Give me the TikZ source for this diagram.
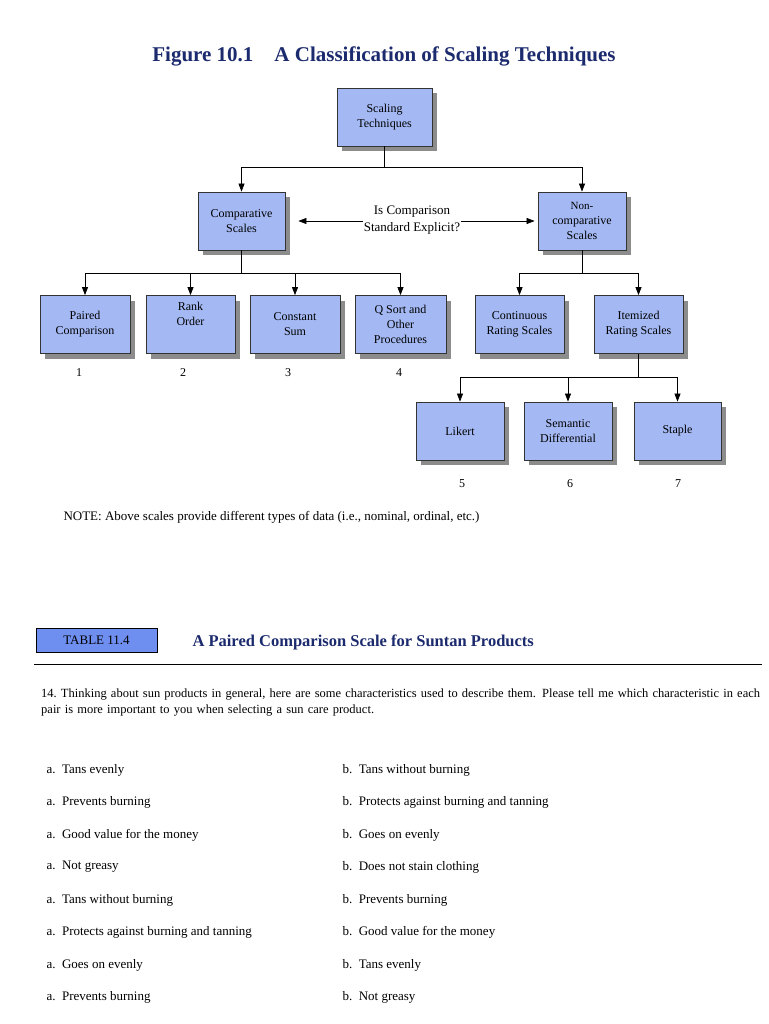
\documentclass[tikz,border=0pt]{standalone}
\usepackage{fontspec}
\setmainfont{Liberation Serif}
\usetikzlibrary{arrows.meta}
\definecolor{boxblue}{HTML}{A4B9F4}
\definecolor{navy}{HTML}{1C2A6E}
\definecolor{tabblue}{HTML}{6E8EF0}
\begin{document}
\begin{tikzpicture}[x=1pt,y=-1pt,
 bx/.style={draw=black!80,fill=boxblue,line width=0.8pt,minimum width=88pt,minimum height=58pt,align=center,font=\fontsize{12}{15}\selectfont,inner sep=1pt,
   preaction={fill=black!45,draw=none,transform canvas={xshift=5pt,yshift=-5pt}}},
 ar/.style={-{Triangle[length=8pt,width=6pt]},line width=0.7pt},
 num/.style={font=\fontsize{12}{14}\selectfont},
 it/.style={anchor=west,font=\fontsize{13}{15}\selectfont}]
\useasboundingbox (0,0) rectangle (768,1024);
\node[font=\fontsize{21}{24}\selectfont\bfseries,text=navy] (title) at (384,56) {Figure 10.1\quad A Classification of Scaling Techniques};
\node[bx,minimum width=95pt] (st) at (384.5,117) {Scaling\\Techniques};
\node[bx,minimum width=87pt] (cs) at (241.5,221) {Comparative\\Scales};
\node[bx] (nc) at (582,221) {\fontsize{11}{13}\selectfont Non-\\comparative\\Scales};
\node[bx,minimum width=90pt] (pc) at (85,324.5) {Paired\\Comparison};
\node[bx,minimum width=89pt] (ro) at (190.5,324.5) {Rank\\Order\\[6pt]};
\node[bx,minimum width=90pt] (cn) at (295,324.5) {Constant\\Sum};
\node[bx,minimum width=91pt] (qs) at (400.5,324.5) {Q Sort and\\Other\\Procedures};
\node[bx,minimum width=89pt] (cr) at (519.5,324.5) {Continuous\\Rating Scales};
\node[bx,minimum width=89pt] (ir) at (638.5,324.5) {Itemized\\Rating Scales};
\node[bx] (lk) at (460,431) {Likert};
\node[bx] (sd) at (568,431) {Semantic\\Differential};
\node[bx,minimum width=87pt] (sp) at (677.5,431) {Staple};
\node[num] (n1) at (79,373) {1};
\node[num] (n2) at (183,373) {2};
\node[num] (n3) at (288,373) {3};
\node[num] (n4) at (399,373) {4};
\node[num] (n5) at (462,484) {5};
\node[num] (n6) at (570,484) {6};
\node[num] (n7) at (678,484) {7};
\coordinate (j1) at (384.5,167);
\draw[line width=0.7pt] (st.south) -- (j1);
\draw[ar] (j1) -| (cs.north);
\draw[ar] (j1) -| (nc.north);
\draw[{Triangle[length=8pt,width=6pt]}-{Triangle[length=8pt,width=6pt]},line width=0.7pt] ([xshift=13pt]cs.east) -- ([xshift=-3pt]nc.west);
\node[font=\fontsize{13}{17}\selectfont,align=center,fill=white,inner sep=1pt] (q) at (412,220) {Is Comparison\\Standard Explicit?};
\coordinate (j2) at (241.5,273);
\draw[line width=0.7pt] (cs.south) -- (j2);
\foreach \n in {pc,ro,cn,qs} \draw[ar] (j2) -| (\n.north);
\coordinate (j3) at (582,273);
\draw[line width=0.7pt] (nc.south) -- (j3);
\foreach \n in {cr,ir} \draw[ar] (j3) -| (\n.north);
\coordinate (j4) at (638.5,377);
\draw[line width=0.7pt] (ir.south) -- (j4);
\foreach \n in {lk,sd,sp} \draw[ar] (j4) -| (\n.north);
\node[it] (note) at (60,517) {NOTE: Above scales provide different types of data (i.e., nominal, ordinal, etc.)};
\node[draw=black,fill=tabblue,minimum width=121pt,minimum height=24pt,font=\fontsize{13}{15}\selectfont] (tb) at (96.5,640) {TABLE 11.4};
\node[anchor=west,font=\fontsize{16.5}{19}\selectfont\bfseries,text=navy] (tt) at (189,642) {A Paired Comparison Scale for Suntan Products};
\draw[line width=0.8pt] (34,664) -- (762,664);
\node[anchor=north west,align=left,text width=720pt,font=\fontsize{12.5}{16}\selectfont,inner sep=0pt] (p) at (41,689) {14.\ Thinking about sun products in general, here are some characteristics used to describe them. Please tell me which characteristic in each pair is more important to you when selecting a sun care product.};
\foreach \y/\a/\b in {770/Tans evenly/Tans without burning,
 802/Prevents burning/Protects against burning and tanning,
 835/Good value for the money/Goes on evenly,
 867/Not greasy/Does not stain clothing,
 900/Tans without burning/Prevents burning,
 932/Protects against burning and tanning/Good value for the money,
 965/Goes on evenly/Tans evenly,
 997/Prevents burning/Not greasy}{
 \node[it] at (43,\y) {a.\ \ \a};
 \node[it] at (339,\y) {b.\ \ \b};
}
\end{tikzpicture}
\end{document}
